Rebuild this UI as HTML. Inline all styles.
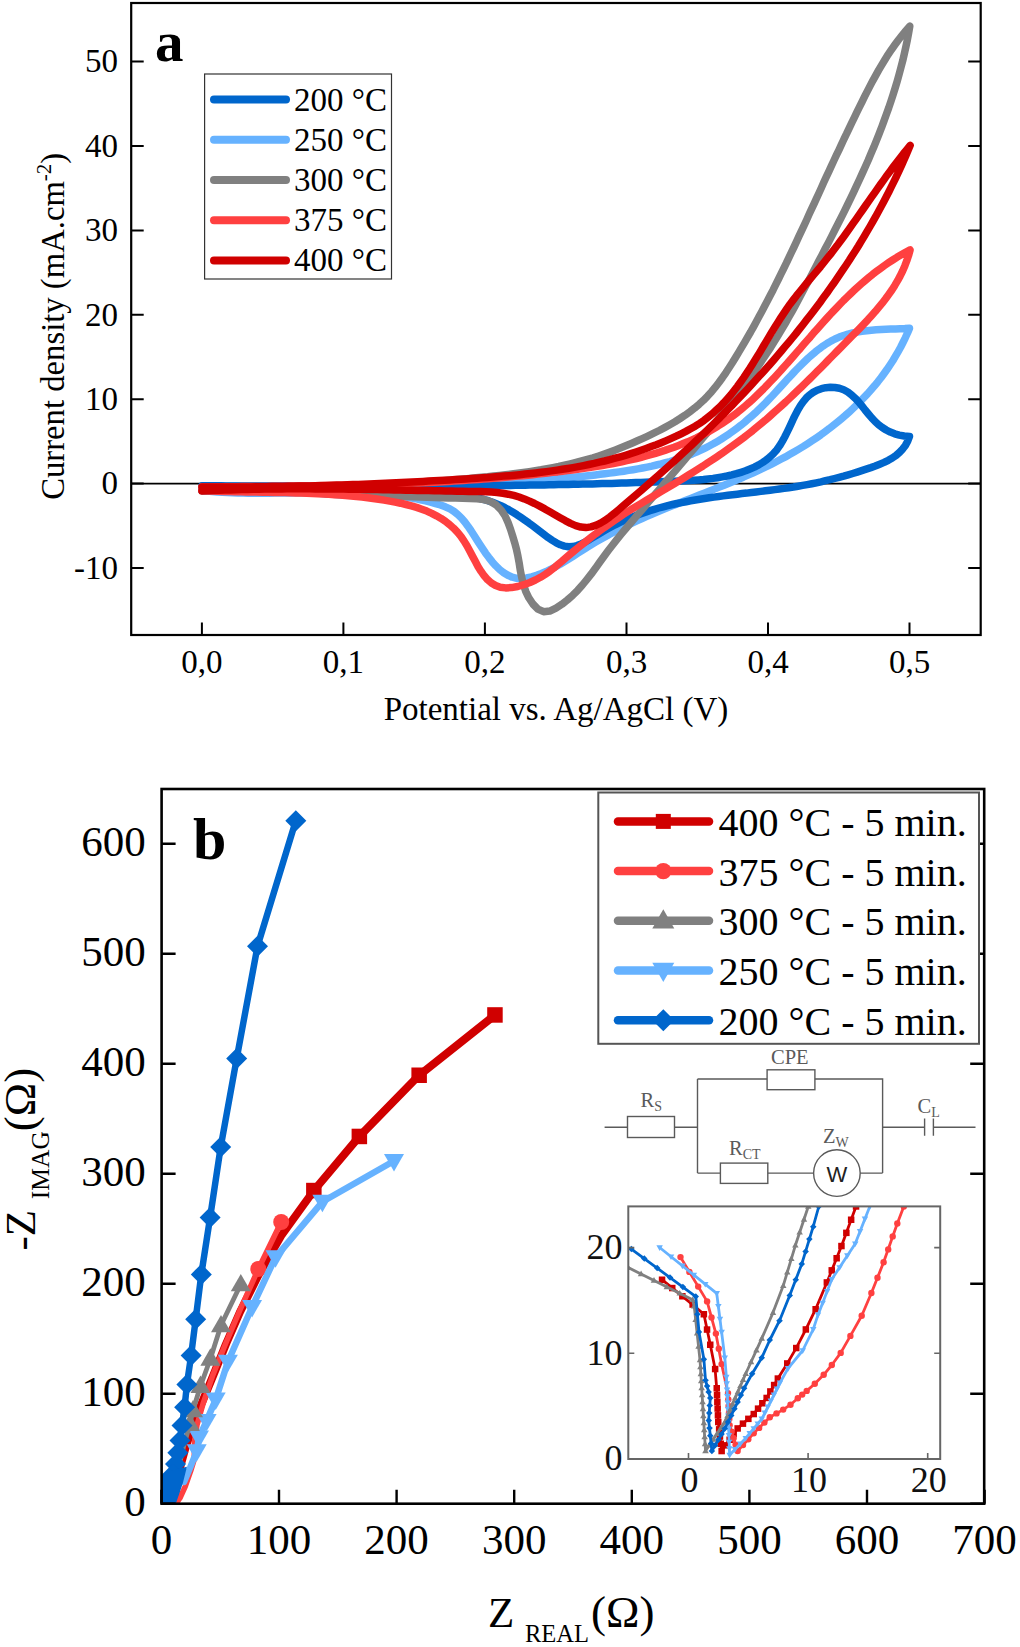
<!DOCTYPE html><html><head><meta charset="utf-8"><style>html,body{margin:0;padding:0;background:#fff;}svg{display:block;}text{font-family:"Liberation Serif",serif;}</style></head><body>
<svg width="1020" height="1647" viewBox="0 0 1020 1647">
<rect width="1020" height="1647" fill="#fff"/>
<line x1="131.2" y1="483.6" x2="980.7" y2="483.6" stroke="#000" stroke-width="1.8"/>
<path d="M202.0 487.0 L206.8 486.9 L211.5 486.9 L216.3 486.8 L221.0 486.7 L225.8 486.7 L230.5 486.6 L235.3 486.6 L240.0 486.5 L244.8 486.5 L249.5 486.5 L254.3 486.5 L259.0 486.4 L263.8 486.4 L268.5 486.4 L273.3 486.4 L278.0 486.4 L282.8 486.3 L287.5 486.3 L292.2 486.3 L297.0 486.3 L301.7 486.3 L306.5 486.3 L311.2 486.3 L316.0 486.3 L320.7 486.3 L325.4 486.3 L330.2 486.2 L334.9 486.2 L339.7 486.2 L344.4 486.2 L349.1 486.2 L353.9 486.2 L358.6 486.1 L363.3 486.1 L368.1 486.1 L372.8 486.0 L377.6 486.0 L382.3 486.0 L387.0 485.9 L391.8 485.9 L396.5 485.8 L401.2 485.7 L406.0 485.7 L410.7 485.6 L415.4 485.5 L420.2 485.4 L424.9 485.3 L429.6 485.2 L434.4 485.1 L439.1 485.0 L443.8 484.9 L448.6 484.7 L453.3 484.6 L458.0 484.4 L462.8 484.3 L467.5 484.1 L472.2 483.9 L477.0 483.7 L481.7 483.5 L486.5 483.3 L491.2 483.1 L495.9 482.9 L500.7 482.6 L505.4 482.4 L510.1 482.1 L514.9 481.8 L519.6 481.5 L524.3 481.2 L529.1 480.9 L533.8 480.6 L538.5 480.2 L543.3 479.9 L548.0 479.5 L552.8 479.1 L557.5 478.7 L562.2 478.3 L567.0 477.8 L571.7 477.4 L576.4 476.9 L581.2 476.4 L585.9 475.9 L590.7 475.4 L595.4 474.9 L600.1 474.3 L604.9 473.7 L609.6 473.1 L614.4 472.5 L619.1 471.9 L623.8 471.2 L628.5 470.4 L633.2 469.7 L637.9 468.9 L642.6 468.0 L647.2 467.1 L651.9 466.1 L656.5 465.0 L661.1 463.9 L665.6 462.7 L670.1 461.5 L674.6 460.1 L679.1 458.7 L683.5 457.2 L687.9 455.6 L692.3 453.9 L696.6 452.1 L700.8 450.2 L705.1 448.1 L709.2 446.0 L713.3 443.8 L717.4 441.4 L721.4 439.0 L725.4 436.4 L729.3 433.8 L733.2 431.0 L737.0 428.2 L740.8 425.3 L744.5 422.3 L748.1 419.2 L751.7 416.1 L755.3 412.9 L758.8 409.6 L762.2 406.3 L765.6 402.9 L768.9 399.4 L772.2 396.0 L775.4 392.5 L778.7 388.9 L781.9 385.4 L785.1 381.9 L788.3 378.3 L791.6 374.9 L794.8 371.4 L798.1 368.0 L801.5 364.6 L804.9 361.3 L808.3 358.0 L811.9 354.9 L815.5 351.8 L819.2 348.9 L823.0 346.1 L826.9 343.5 L830.9 341.1 L835.0 339.0 L839.2 337.1 L843.6 335.5 L848.1 334.1 L852.6 333.0 L857.2 332.1 L861.9 331.3 L866.7 330.7 L871.4 330.2 L876.2 329.8 L881.1 329.5 L885.9 329.3 L890.7 329.1 L895.5 328.9 L900.2 328.7 L904.9 328.5 L909.5 328.2 L907.5 333.0 L905.3 337.8 L903.0 342.5 L900.6 347.2 L898.1 351.7 L895.5 356.2 L892.8 360.7 L890.0 365.0 L887.1 369.3 L884.1 373.5 L881.0 377.7 L877.8 381.8 L874.5 385.8 L871.1 389.7 L867.7 393.6 L864.1 397.4 L860.5 401.1 L856.9 404.8 L853.1 408.4 L849.3 411.9 L845.4 415.4 L841.4 418.8 L837.4 422.1 L833.3 425.4 L829.2 428.6 L825.0 431.7 L820.8 434.8 L816.5 437.8 L812.2 440.7 L807.8 443.6 L803.4 446.4 L798.9 449.1 L794.4 451.7 L789.9 454.3 L785.4 456.9 L780.8 459.3 L776.2 461.7 L771.5 464.1 L766.9 466.4 L762.2 468.6 L757.5 470.8 L752.8 473.0 L748.0 475.1 L743.3 477.2 L738.5 479.2 L733.7 481.2 L728.9 483.2 L724.1 485.2 L719.3 487.1 L714.4 489.1 L709.6 491.0 L704.8 492.9 L699.9 494.8 L695.1 496.7 L690.2 498.7 L685.4 500.6 L680.5 502.5 L675.7 504.4 L670.9 506.4 L666.1 508.3 L661.2 510.3 L656.4 512.3 L651.7 514.3 L646.9 516.4 L642.1 518.5 L637.4 520.6 L632.6 522.8 L627.9 525.0 L623.3 527.3 L618.6 529.6 L614.0 532.0 L609.3 534.4 L604.8 536.9 L600.2 539.5 L595.7 542.1 L591.2 544.8 L586.7 547.5 L582.3 550.4 L577.9 553.2 L573.5 556.0 L569.0 558.9 L564.6 561.6 L560.1 564.3 L555.5 566.8 L550.9 569.2 L546.2 571.5 L541.5 573.5 L536.6 575.3 L531.6 576.8 L526.6 578.0 L521.7 578.5 L516.9 578.3 L512.2 577.2 L507.9 575.3 L503.7 572.7 L499.7 569.6 L495.9 565.9 L492.3 561.9 L488.9 557.6 L485.6 553.2 L482.6 548.7 L479.6 544.1 L476.7 539.6 L473.8 535.0 L470.9 530.5 L467.9 526.2 L464.8 522.0 L461.5 518.1 L457.9 514.6 L454.1 511.5 L449.9 508.9 L445.3 506.8 L440.5 505.0 L435.6 503.6 L430.6 502.2 L425.6 500.9 L420.6 499.8 L415.5 498.7 L410.4 497.8 L405.3 496.9 L400.2 496.2 L395.1 495.5 L389.9 494.9 L384.8 494.4 L379.6 493.9 L374.4 493.5 L369.2 493.2 L364.0 492.9 L358.7 492.7 L353.5 492.5 L348.3 492.4 L343.0 492.3 L337.7 492.3 L332.5 492.3 L327.2 492.3 L321.9 492.3 L316.6 492.4 L311.4 492.5 L306.1 492.6 L300.8 492.7 L295.5 492.8 L290.2 492.9 L285.0 493.0 L279.7 493.1 L274.4 493.1 L269.2 493.2 L263.9 493.2 L258.7 493.2 L253.5 493.2 L248.3 493.2 L243.1 493.1 L237.9 493.0 L232.7 492.8 L227.5 492.6 L222.4 492.3 L217.3 491.9 L212.2 491.5 L207.1 491.0 L202.0 490.5" fill="none" stroke="#66b2ff" stroke-width="7.5" stroke-linecap="round" stroke-linejoin="round"/>
<path d="M202.0 485.8 L206.8 485.8 L211.7 485.8 L216.5 485.8 L221.3 485.8 L226.1 485.9 L231.0 485.9 L235.8 485.9 L240.6 485.9 L245.4 485.9 L250.3 485.9 L255.1 485.9 L259.9 486.0 L264.7 486.0 L269.5 486.0 L274.4 486.0 L279.2 486.0 L284.0 486.0 L288.8 486.0 L293.7 486.0 L298.5 486.1 L303.3 486.1 L308.1 486.1 L312.9 486.1 L317.8 486.1 L322.6 486.1 L327.4 486.1 L332.2 486.1 L337.0 486.1 L341.9 486.1 L346.7 486.2 L351.5 486.2 L356.3 486.2 L361.1 486.2 L366.0 486.2 L370.8 486.2 L375.6 486.2 L380.4 486.2 L385.2 486.2 L390.1 486.1 L394.9 486.1 L399.7 486.1 L404.5 486.1 L409.3 486.1 L414.1 486.1 L419.0 486.1 L423.8 486.1 L428.6 486.0 L433.4 486.0 L438.2 486.0 L443.1 486.0 L447.9 485.9 L452.7 485.9 L457.5 485.9 L462.3 485.9 L467.1 485.8 L472.0 485.8 L476.8 485.7 L481.6 485.7 L486.4 485.6 L491.2 485.6 L496.1 485.5 L500.9 485.5 L505.7 485.4 L510.5 485.4 L515.3 485.3 L520.2 485.2 L525.0 485.2 L529.8 485.1 L534.6 485.0 L539.4 485.0 L544.3 484.9 L549.1 484.8 L553.9 484.7 L558.7 484.6 L563.6 484.5 L568.4 484.4 L573.2 484.3 L578.0 484.2 L582.8 484.1 L587.7 484.0 L592.5 483.9 L597.3 483.7 L602.1 483.6 L607.0 483.5 L611.8 483.4 L616.6 483.2 L621.5 483.1 L626.3 482.9 L631.1 482.8 L635.9 482.6 L640.8 482.5 L645.6 482.3 L650.4 482.1 L655.2 482.0 L660.1 481.8 L664.9 481.6 L669.7 481.4 L674.6 481.2 L679.4 481.0 L684.2 480.8 L689.0 480.6 L693.9 480.3 L698.7 479.9 L703.5 479.5 L708.2 479.0 L713.0 478.4 L717.7 477.7 L722.4 476.9 L727.1 476.0 L731.8 474.9 L736.4 473.7 L741.0 472.3 L745.6 470.8 L750.0 469.0 L754.4 467.1 L758.7 464.9 L762.8 462.4 L766.7 459.7 L770.3 456.7 L773.7 453.3 L776.9 449.7 L779.7 445.7 L782.3 441.4 L784.7 437.0 L787.0 432.4 L789.2 427.8 L791.4 423.1 L793.5 418.5 L795.8 413.9 L798.1 409.6 L800.6 405.4 L803.3 401.6 L806.2 398.1 L809.5 395.0 L813.1 392.4 L817.1 390.2 L821.4 388.7 L825.8 387.7 L830.3 387.3 L834.9 387.5 L839.4 388.3 L843.7 389.8 L847.8 392.0 L851.6 394.9 L855.1 398.2 L858.6 401.9 L861.9 405.9 L865.1 410.0 L868.4 414.0 L871.7 417.9 L875.1 421.5 L878.6 424.7 L882.3 427.5 L886.2 430.0 L890.3 432.1 L894.7 433.8 L899.3 435.1 L904.2 436.0 L909.5 436.5 L907.7 441.2 L905.4 445.4 L902.6 449.1 L899.5 452.4 L896.1 455.4 L892.3 458.0 L888.3 460.3 L884.1 462.4 L879.7 464.2 L875.3 466.0 L870.8 467.6 L866.2 469.1 L861.7 470.6 L857.2 472.1 L852.7 473.5 L848.2 474.8 L843.7 476.1 L839.1 477.3 L834.6 478.5 L830.1 479.7 L825.5 480.7 L821.0 481.8 L816.4 482.8 L811.8 483.7 L807.2 484.6 L802.6 485.4 L798.0 486.2 L793.4 487.0 L788.7 487.7 L784.1 488.4 L779.4 489.0 L774.8 489.6 L770.1 490.2 L765.4 490.8 L760.7 491.4 L756.0 492.0 L751.3 492.5 L746.7 493.1 L742.0 493.6 L737.3 494.2 L732.6 494.7 L727.9 495.3 L723.2 495.9 L718.5 496.5 L713.9 497.1 L709.2 497.8 L704.6 498.5 L699.9 499.2 L695.3 500.0 L690.7 500.8 L686.1 501.7 L681.5 502.6 L676.9 503.5 L672.4 504.5 L667.8 505.6 L663.3 506.8 L658.8 508.0 L654.3 509.3 L649.9 510.6 L645.5 512.1 L641.1 513.6 L636.7 515.2 L632.4 517.0 L628.0 518.8 L623.7 520.7 L619.5 522.7 L615.2 524.8 L611.0 527.0 L606.8 529.3 L602.5 531.7 L598.3 534.2 L594.0 536.8 L589.7 539.4 L585.5 541.8 L581.2 543.9 L577.0 545.6 L572.7 546.6 L568.6 546.8 L564.4 546.1 L560.4 544.8 L556.3 542.8 L552.3 540.4 L548.3 537.7 L544.4 534.7 L540.5 531.7 L536.6 528.7 L532.7 525.8 L528.8 522.9 L524.8 520.1 L520.9 517.4 L517.0 514.8 L513.0 512.3 L509.0 509.9 L505.0 507.7 L500.9 505.7 L496.7 503.9 L492.5 502.2 L488.2 500.7 L483.9 499.5 L479.4 498.4 L474.9 497.5 L470.4 496.8 L465.8 496.2 L461.2 495.8 L456.5 495.4 L451.8 495.2 L447.0 495.1 L442.3 495.0 L437.5 495.1 L432.7 495.2 L427.8 495.3 L423.0 495.4 L418.2 495.6 L413.3 495.8 L408.5 496.0 L403.7 496.1 L398.8 496.2 L394.1 496.3 L389.3 496.3 L384.5 496.3 L379.8 496.3 L375.1 496.2 L370.3 496.0 L365.6 495.9 L361.0 495.7 L356.3 495.5 L351.6 495.3 L347.0 495.0 L342.3 494.8 L337.7 494.5 L333.0 494.2 L328.4 493.9 L323.8 493.5 L319.2 493.2 L314.5 492.9 L309.9 492.6 L305.3 492.2 L300.7 491.9 L296.1 491.6 L291.5 491.3 L286.8 491.0 L282.2 490.7 L277.6 490.5 L272.9 490.2 L268.3 490.0 L263.6 489.8 L259.0 489.6 L254.3 489.5 L249.6 489.4 L244.9 489.3 L240.2 489.2 L235.5 489.2 L230.8 489.3 L226.0 489.4 L221.2 489.5 L216.5 489.7 L211.7 489.9 L206.8 490.2 L202.0 490.5" fill="none" stroke="#0066cc" stroke-width="7.5" stroke-linecap="round" stroke-linejoin="round"/>
<path d="M202.0 487.0 L208.0 487.1 L214.0 487.3 L220.0 487.4 L225.9 487.5 L231.9 487.6 L237.9 487.7 L243.9 487.7 L249.8 487.8 L255.8 487.8 L261.8 487.8 L267.7 487.8 L273.7 487.8 L279.6 487.8 L285.6 487.7 L291.5 487.6 L297.5 487.6 L303.4 487.5 L309.4 487.4 L315.3 487.2 L321.3 487.1 L327.2 486.9 L333.1 486.7 L339.1 486.6 L345.0 486.4 L351.0 486.1 L356.9 485.9 L362.8 485.6 L368.8 485.4 L374.7 485.1 L380.6 484.8 L386.6 484.5 L392.5 484.1 L398.5 483.8 L404.4 483.4 L410.3 483.1 L416.3 482.7 L422.2 482.2 L428.2 481.8 L434.1 481.4 L440.1 480.9 L446.0 480.4 L452.0 479.9 L457.9 479.4 L463.9 478.9 L469.8 478.4 L475.8 477.8 L481.7 477.2 L487.7 476.7 L493.7 476.0 L499.6 475.4 L505.6 474.7 L511.5 474.0 L517.5 473.3 L523.4 472.5 L529.3 471.6 L535.2 470.7 L541.1 469.8 L547.0 468.7 L552.8 467.6 L558.7 466.5 L564.5 465.2 L570.3 463.9 L576.0 462.5 L581.7 461.0 L587.4 459.4 L593.1 457.8 L598.7 456.0 L604.3 454.1 L609.9 452.1 L615.4 450.0 L620.9 447.8 L626.4 445.5 L631.9 443.2 L637.4 440.8 L642.9 438.3 L648.3 435.8 L653.8 433.2 L659.2 430.5 L664.6 427.6 L669.8 424.7 L675.0 421.7 L680.1 418.5 L685.1 415.2 L689.9 411.7 L694.6 408.1 L699.1 404.3 L703.5 400.3 L707.6 396.1 L711.6 391.7 L715.3 387.2 L718.9 382.5 L722.4 377.7 L725.8 372.8 L729.1 367.8 L732.3 362.8 L735.4 357.7 L738.5 352.6 L741.6 347.4 L744.6 342.3 L747.6 337.1 L750.6 332.0 L753.5 326.8 L756.4 321.5 L759.2 316.3 L762.1 311.0 L764.8 305.8 L767.6 300.5 L770.3 295.2 L773.1 289.9 L775.7 284.6 L778.4 279.2 L781.0 273.9 L783.7 268.5 L786.3 263.2 L788.8 257.8 L791.4 252.4 L794.0 247.0 L796.5 241.6 L799.0 236.2 L801.5 230.8 L804.1 225.4 L806.6 220.0 L809.0 214.6 L811.5 209.2 L814.0 203.8 L816.5 198.4 L819.0 193.0 L821.5 187.5 L823.9 182.1 L826.4 176.7 L828.9 171.3 L831.4 165.9 L833.9 160.5 L836.4 155.2 L839.0 149.8 L841.5 144.4 L844.0 139.0 L846.6 133.7 L849.1 128.3 L851.7 122.9 L854.3 117.6 L856.9 112.2 L859.5 106.9 L862.2 101.5 L864.8 96.2 L867.5 90.9 L870.2 85.6 L873.0 80.3 L875.9 75.1 L878.8 69.9 L881.8 64.8 L884.9 59.7 L888.1 54.6 L891.4 49.7 L894.9 44.8 L898.4 40.0 L902.1 35.3 L905.9 30.7 L909.8 26.2 L908.6 33.2 L907.3 40.1 L905.8 47.1 L904.3 53.9 L902.7 60.8 L900.9 67.6 L899.1 74.4 L897.2 81.2 L895.2 87.9 L893.1 94.6 L890.9 101.3 L888.7 107.9 L886.3 114.5 L883.9 121.1 L881.5 127.7 L878.9 134.3 L876.3 140.8 L873.7 147.3 L870.9 153.8 L868.2 160.3 L865.3 166.7 L862.4 173.1 L859.5 179.5 L856.5 185.9 L853.5 192.3 L850.5 198.7 L847.4 205.0 L844.3 211.4 L841.1 217.7 L837.9 224.0 L834.7 230.3 L831.5 236.6 L828.3 242.9 L825.0 249.1 L821.8 255.4 L818.5 261.6 L815.2 267.9 L812.0 274.1 L808.7 280.4 L805.4 286.6 L802.1 292.8 L798.8 299.0 L795.5 305.2 L792.1 311.3 L788.6 317.5 L785.2 323.6 L781.6 329.6 L778.0 335.6 L774.3 341.6 L770.6 347.6 L766.7 353.4 L762.8 359.3 L758.9 365.1 L754.8 370.8 L750.7 376.6 L746.6 382.3 L742.4 387.9 L738.2 393.6 L733.9 399.2 L729.6 404.7 L725.2 410.3 L720.8 415.8 L716.4 421.3 L712.0 426.8 L707.6 432.3 L703.1 437.7 L698.6 443.1 L694.1 448.5 L689.5 453.9 L685.0 459.3 L680.5 464.7 L675.9 470.1 L671.3 475.4 L666.7 480.8 L662.2 486.1 L657.6 491.5 L653.0 496.8 L648.4 502.1 L643.9 507.5 L639.3 512.8 L634.8 518.1 L630.2 523.5 L625.7 528.8 L621.2 534.2 L616.8 539.6 L612.4 545.2 L608.1 550.8 L603.9 556.5 L599.7 562.3 L595.6 568.1 L591.3 573.9 L586.9 579.5 L582.4 585.0 L577.7 590.3 L572.8 595.2 L567.5 599.9 L562.0 604.2 L556.0 608.1 L549.8 611.1 L543.6 611.7 L537.9 609.1 L532.9 604.0 L528.8 597.8 L525.7 591.3 L523.4 584.4 L521.7 577.4 L520.3 570.2 L519.2 563.1 L517.9 556.1 L516.5 549.4 L514.7 542.8 L512.7 536.2 L510.6 529.5 L508.1 522.6 L505.1 516.0 L501.1 510.0 L496.2 505.0 L490.4 501.5 L483.9 499.6 L477.0 498.8 L469.8 498.5 L462.7 498.3 L455.6 498.1 L448.4 497.9 L441.3 497.7 L434.2 497.4 L427.2 497.2 L420.1 496.9 L413.0 496.7 L405.9 496.4 L398.9 496.1 L391.9 495.9 L384.8 495.6 L377.8 495.3 L370.8 495.1 L363.7 494.8 L356.7 494.5 L349.7 494.3 L342.7 494.0 L335.7 493.8 L328.7 493.5 L321.6 493.3 L314.6 493.0 L307.6 492.8 L300.6 492.6 L293.6 492.3 L286.6 492.1 L279.6 491.9 L272.5 491.7 L265.5 491.5 L258.5 491.4 L251.5 491.2 L244.4 491.1 L237.4 490.9 L230.3 490.8 L223.2 490.7 L216.2 490.6 L209.1 490.6 L202.0 490.5" fill="none" stroke="#808080" stroke-width="7.5" stroke-linecap="round" stroke-linejoin="round"/>
<path d="M202.0 487.0 L207.0 486.9 L212.0 486.9 L217.0 486.8 L222.0 486.8 L227.0 486.8 L231.9 486.7 L236.9 486.7 L241.9 486.6 L246.9 486.6 L251.8 486.5 L256.8 486.5 L261.7 486.4 L266.7 486.4 L271.7 486.3 L276.6 486.3 L281.6 486.2 L286.5 486.2 L291.4 486.1 L296.4 486.1 L301.3 486.0 L306.3 485.9 L311.2 485.9 L316.1 485.8 L321.0 485.7 L326.0 485.6 L330.9 485.6 L335.8 485.5 L340.7 485.4 L345.7 485.3 L350.6 485.2 L355.5 485.0 L360.4 484.9 L365.3 484.8 L370.3 484.7 L375.2 484.5 L380.1 484.4 L385.0 484.2 L389.9 484.1 L394.8 483.9 L399.7 483.7 L404.6 483.5 L409.6 483.3 L414.5 483.1 L419.4 482.9 L424.3 482.7 L429.2 482.4 L434.1 482.2 L439.0 481.9 L444.0 481.7 L448.9 481.4 L453.8 481.1 L458.7 480.8 L463.6 480.5 L468.6 480.1 L473.5 479.8 L478.4 479.4 L483.3 479.1 L488.3 478.7 L493.2 478.3 L498.1 477.9 L503.1 477.5 L508.0 477.1 L513.0 476.6 L517.9 476.1 L522.9 475.7 L527.8 475.2 L532.8 474.7 L537.7 474.1 L542.7 473.6 L547.6 473.0 L552.6 472.4 L557.6 471.9 L562.5 471.2 L567.5 470.6 L572.5 470.0 L577.5 469.3 L582.4 468.6 L587.4 467.9 L592.4 467.1 L597.3 466.3 L602.3 465.5 L607.2 464.6 L612.1 463.7 L617.0 462.8 L621.9 461.8 L626.8 460.7 L631.6 459.6 L636.5 458.5 L641.3 457.3 L646.1 456.0 L650.8 454.7 L655.5 453.3 L660.2 451.9 L664.9 450.4 L669.5 448.8 L674.1 447.2 L678.7 445.4 L683.2 443.6 L687.7 441.8 L692.1 439.8 L696.5 437.8 L700.9 435.6 L705.2 433.4 L709.4 431.1 L713.6 428.7 L717.8 426.2 L721.9 423.6 L725.9 420.9 L729.9 418.1 L733.8 415.2 L737.7 412.2 L741.5 409.1 L745.2 406.0 L749.0 402.7 L752.6 399.4 L756.2 396.0 L759.8 392.5 L763.4 389.0 L766.9 385.4 L770.3 381.8 L773.8 378.2 L777.2 374.5 L780.6 370.8 L783.9 367.0 L787.3 363.3 L790.6 359.5 L793.9 355.7 L797.2 351.9 L800.5 348.2 L803.7 344.4 L807.0 340.6 L810.3 336.9 L813.5 333.1 L816.8 329.4 L820.1 325.7 L823.4 322.0 L826.7 318.4 L830.0 314.7 L833.4 311.1 L836.8 307.6 L840.2 304.0 L843.6 300.5 L847.1 297.1 L850.6 293.7 L854.2 290.3 L857.8 287.0 L861.4 283.8 L865.1 280.6 L868.9 277.4 L872.7 274.3 L876.6 271.3 L880.5 268.4 L884.5 265.5 L888.6 262.7 L892.7 260.0 L896.9 257.3 L901.2 254.8 L905.6 252.3 L910.1 249.9 L908.6 255.4 L906.8 260.7 L904.8 265.9 L902.6 271.0 L900.2 275.9 L897.6 280.7 L894.8 285.4 L891.9 290.0 L888.8 294.4 L885.6 298.8 L882.2 303.2 L878.7 307.4 L875.2 311.6 L871.5 315.7 L867.8 319.8 L864.0 323.8 L860.2 327.8 L856.3 331.8 L852.4 335.7 L848.5 339.7 L844.6 343.6 L840.7 347.6 L836.8 351.5 L832.9 355.5 L829.0 359.4 L825.2 363.4 L821.3 367.3 L817.4 371.2 L813.5 375.1 L809.6 379.0 L805.6 382.9 L801.7 386.7 L797.7 390.5 L793.8 394.3 L789.8 398.1 L785.8 401.9 L781.7 405.6 L777.6 409.3 L773.5 412.9 L769.4 416.6 L765.3 420.2 L761.1 423.7 L756.8 427.2 L752.6 430.7 L748.2 434.1 L743.9 437.5 L739.5 440.8 L735.0 444.1 L730.5 447.3 L726.0 450.5 L721.5 453.7 L716.9 456.8 L712.3 459.9 L707.6 462.9 L703.0 466.0 L698.3 468.9 L693.6 471.9 L688.9 474.8 L684.2 477.7 L679.5 480.6 L674.7 483.5 L670.0 486.3 L665.3 489.1 L660.6 491.9 L655.8 494.7 L651.1 497.5 L646.4 500.3 L641.7 503.1 L637.0 505.9 L632.3 508.8 L627.7 511.7 L623.0 514.7 L618.4 517.8 L613.8 520.9 L609.2 524.1 L604.6 527.3 L600.1 530.6 L595.6 533.9 L591.2 537.3 L586.8 540.7 L582.4 544.2 L578.2 547.6 L574.0 551.0 L569.8 554.5 L565.8 557.9 L561.8 561.4 L557.8 564.7 L553.8 568.1 L549.6 571.3 L545.2 574.3 L540.5 577.3 L535.4 580.0 L529.9 582.5 L523.9 584.7 L517.7 586.5 L511.5 587.6 L505.6 587.9 L500.3 587.2 L495.6 585.5 L491.4 583.0 L487.6 579.7 L484.2 575.8 L481.1 571.4 L478.1 566.7 L475.4 561.6 L472.6 556.4 L469.9 551.2 L467.1 546.0 L464.1 541.1 L460.9 536.4 L457.4 532.2 L453.6 528.2 L449.7 524.7 L445.5 521.4 L441.1 518.4 L436.5 515.8 L431.7 513.3 L426.8 511.1 L421.8 509.2 L416.6 507.4 L411.4 505.9 L406.0 504.5 L400.6 503.2 L395.1 502.1 L389.7 501.1 L384.1 500.1 L378.6 499.3 L373.1 498.5 L367.6 497.8 L362.1 497.1 L356.5 496.5 L351.0 496.0 L345.5 495.5 L340.0 495.1 L334.5 494.7 L328.9 494.3 L323.4 494.0 L317.9 493.7 L312.4 493.5 L306.9 493.3 L301.3 493.1 L295.8 492.9 L290.3 492.8 L284.8 492.6 L279.3 492.5 L273.7 492.4 L268.2 492.3 L262.7 492.2 L257.2 492.1 L251.7 492.0 L246.1 491.9 L240.6 491.8 L235.1 491.7 L229.6 491.6 L224.1 491.4 L218.6 491.2 L213.0 491.0 L207.5 490.8 L202.0 490.5" fill="none" stroke="#ff4040" stroke-width="7.5" stroke-linecap="round" stroke-linejoin="round"/>
<path d="M202.0 487.0 L207.4 487.0 L212.8 487.0 L218.1 487.0 L223.5 487.0 L228.9 487.0 L234.3 487.0 L239.7 486.9 L245.1 486.9 L250.5 486.9 L255.9 486.8 L261.2 486.7 L266.6 486.7 L272.0 486.6 L277.4 486.5 L282.8 486.4 L288.2 486.3 L293.6 486.2 L299.0 486.1 L304.4 486.0 L309.8 485.9 L315.2 485.7 L320.6 485.6 L326.0 485.4 L331.3 485.3 L336.7 485.1 L342.1 484.9 L347.5 484.8 L352.9 484.6 L358.3 484.4 L363.7 484.2 L369.1 484.0 L374.5 483.7 L379.9 483.5 L385.3 483.3 L390.7 483.0 L396.1 482.8 L401.4 482.5 L406.8 482.3 L412.2 482.0 L417.6 481.7 L423.0 481.4 L428.4 481.1 L433.8 480.8 L439.1 480.5 L444.5 480.2 L449.9 479.9 L455.3 479.6 L460.7 479.2 L466.0 478.9 L471.4 478.5 L476.8 478.2 L482.2 477.8 L487.5 477.4 L492.9 477.0 L498.3 476.6 L503.6 476.1 L509.0 475.7 L514.3 475.2 L519.7 474.7 L525.0 474.1 L530.4 473.6 L535.7 473.0 L541.0 472.3 L546.4 471.6 L551.7 470.9 L557.0 470.1 L562.3 469.3 L567.6 468.5 L572.9 467.6 L578.2 466.6 L583.5 465.6 L588.8 464.5 L594.1 463.4 L599.3 462.2 L604.6 461.0 L609.9 459.6 L615.1 458.2 L620.3 456.8 L625.5 455.3 L630.7 453.7 L635.9 452.0 L641.0 450.3 L646.1 448.5 L651.2 446.6 L656.3 444.7 L661.3 442.7 L666.3 440.6 L671.3 438.4 L676.2 436.2 L681.1 433.8 L685.9 431.4 L690.6 428.8 L695.2 426.2 L699.7 423.3 L704.1 420.3 L708.3 417.0 L712.4 413.7 L716.3 410.1 L720.2 406.5 L723.8 402.7 L727.4 398.7 L730.9 394.7 L734.2 390.5 L737.5 386.3 L740.6 382.0 L743.7 377.6 L746.7 373.1 L749.7 368.6 L752.6 364.0 L755.4 359.4 L758.3 354.8 L761.1 350.1 L763.8 345.5 L766.6 340.8 L769.4 336.1 L772.2 331.4 L775.1 326.8 L778.0 322.2 L780.9 317.6 L783.9 313.1 L786.9 308.6 L790.0 304.2 L793.3 299.9 L796.5 295.7 L799.9 291.5 L803.3 287.3 L806.7 283.1 L810.1 279.0 L813.6 274.9 L817.0 270.8 L820.5 266.7 L823.9 262.5 L827.2 258.3 L830.6 254.1 L833.9 249.8 L837.1 245.6 L840.3 241.2 L843.5 236.9 L846.7 232.5 L849.8 228.1 L852.9 223.7 L856.0 219.3 L859.1 214.9 L862.2 210.5 L865.3 206.0 L868.4 201.6 L871.5 197.2 L874.6 192.8 L877.7 188.4 L880.8 184.0 L884.0 179.6 L887.1 175.2 L890.3 170.9 L893.5 166.5 L896.8 162.2 L900.1 158.0 L903.4 153.7 L906.8 149.6 L910.2 145.4 L908.0 150.6 L905.8 155.8 L903.5 161.0 L901.2 166.2 L898.8 171.3 L896.4 176.5 L893.9 181.6 L891.4 186.7 L888.9 191.7 L886.3 196.8 L883.7 201.8 L881.0 206.8 L878.3 211.7 L875.6 216.7 L872.8 221.6 L870.0 226.5 L867.1 231.4 L864.2 236.3 L861.3 241.1 L858.4 246.0 L855.4 250.8 L852.3 255.5 L849.3 260.3 L846.2 265.0 L843.0 269.7 L839.8 274.4 L836.6 279.1 L833.4 283.8 L830.1 288.4 L826.9 293.0 L823.5 297.6 L820.2 302.2 L816.8 306.7 L813.4 311.2 L809.9 315.8 L806.4 320.2 L802.9 324.7 L799.4 329.1 L795.9 333.6 L792.3 338.0 L788.7 342.3 L785.0 346.7 L781.4 351.0 L777.7 355.4 L774.0 359.7 L770.3 363.9 L766.5 368.2 L762.7 372.4 L758.9 376.6 L755.1 380.8 L751.3 385.0 L747.4 389.2 L743.5 393.3 L739.6 397.4 L735.7 401.5 L731.8 405.6 L727.8 409.6 L723.9 413.6 L719.9 417.7 L715.9 421.6 L711.9 425.6 L707.8 429.6 L703.8 433.5 L699.7 437.4 L695.6 441.3 L691.5 445.2 L687.4 449.0 L683.3 452.8 L679.1 456.6 L675.0 460.4 L670.8 464.2 L666.6 468.0 L662.4 471.8 L658.2 475.5 L653.9 479.3 L649.6 483.1 L645.3 486.8 L641.0 490.6 L636.6 494.3 L632.2 498.1 L627.8 501.9 L623.4 505.7 L618.9 509.5 L614.4 513.3 L609.8 516.9 L605.2 520.3 L600.5 523.1 L595.7 525.4 L590.9 526.9 L585.9 527.6 L580.8 527.1 L575.7 525.6 L570.5 523.4 L565.2 520.6 L560.1 517.7 L554.9 514.7 L549.8 511.8 L544.8 508.9 L539.7 506.1 L534.6 503.5 L529.5 501.1 L524.3 498.9 L519.1 497.0 L513.8 495.4 L508.3 494.2 L502.8 493.2 L497.2 492.5 L491.6 492.1 L485.9 491.8 L480.2 491.6 L474.4 491.4 L468.7 491.4 L462.9 491.3 L457.2 491.2 L451.5 491.1 L445.8 491.0 L440.0 490.8 L434.3 490.7 L428.6 490.6 L422.9 490.5 L417.3 490.4 L411.6 490.3 L405.9 490.2 L400.2 490.1 L394.5 489.9 L388.9 489.8 L383.2 489.7 L377.6 489.6 L371.9 489.5 L366.2 489.4 L360.6 489.3 L354.9 489.3 L349.3 489.2 L343.6 489.1 L338.0 489.0 L332.3 489.0 L326.7 488.9 L321.1 488.9 L315.4 488.9 L309.8 488.8 L304.1 488.8 L298.5 488.8 L292.8 488.8 L287.2 488.8 L281.5 488.9 L275.9 488.9 L270.2 489.0 L264.5 489.1 L258.9 489.2 L253.2 489.3 L247.5 489.4 L241.9 489.5 L236.2 489.7 L230.5 489.9 L224.8 490.0 L219.1 490.3 L213.4 490.5 L207.7 490.7 L202.0 491.0" fill="none" stroke="#d00000" stroke-width="7.5" stroke-linecap="round" stroke-linejoin="round"/>
<rect x="131.2" y="3.0" width="849.5" height="632.0" fill="none" stroke="#000" stroke-width="2.2"/>
<path d="M131.2 568.0h12.5M980.7 568.0h-12.5M131.2 483.6h12.5M980.7 483.6h-12.5M131.2 399.2h12.5M980.7 399.2h-12.5M131.2 314.8h12.5M980.7 314.8h-12.5M131.2 230.4h12.5M980.7 230.4h-12.5M131.2 146.0h12.5M980.7 146.0h-12.5M131.2 61.6h12.5M980.7 61.6h-12.5M201.9 635.0v-12.5M343.4 635.0v-12.5M484.9 635.0v-12.5M626.5 635.0v-12.5M768.0 635.0v-12.5M909.5 635.0v-12.5" stroke="#000" stroke-width="2" fill="none"/>
<text x="118.0" y="578.8" font-size="33" text-anchor="end">-10</text>
<text x="118.0" y="494.4" font-size="33" text-anchor="end">0</text>
<text x="118.0" y="410.0" font-size="33" text-anchor="end">10</text>
<text x="118.0" y="325.6" font-size="33" text-anchor="end">20</text>
<text x="118.0" y="241.2" font-size="33" text-anchor="end">30</text>
<text x="118.0" y="156.8" font-size="33" text-anchor="end">40</text>
<text x="118.0" y="72.4" font-size="33" text-anchor="end">50</text>
<text x="201.9" y="673.0" font-size="33" text-anchor="middle">0,0</text>
<text x="343.4" y="673.0" font-size="33" text-anchor="middle">0,1</text>
<text x="484.9" y="673.0" font-size="33" text-anchor="middle">0,2</text>
<text x="626.5" y="673.0" font-size="33" text-anchor="middle">0,3</text>
<text x="768.0" y="673.0" font-size="33" text-anchor="middle">0,4</text>
<text x="909.5" y="673.0" font-size="33" text-anchor="middle">0,5</text>
<text x="556.0" y="719.8" font-size="33" text-anchor="middle">Potential vs. Ag/AgCl (V)</text>
<text transform="translate(63.5 499.8) rotate(-90)" font-size="32.7">Current density (mA.cm<tspan font-size="21" dy="-13">-2</tspan><tspan dy="13">)</tspan></text>
<text x="155.0" y="60.6" font-size="57" font-weight="bold">a</text>
<rect x="204.6" y="74.0" width="186.9" height="205.0" fill="#fff" stroke="#333" stroke-width="1.2"/>
<line x1="214.0" y1="99.6" x2="286.0" y2="99.6" stroke="#0066cc" stroke-width="8" stroke-linecap="round"/>
<text x="294.0" y="110.5" font-size="33">200 °C</text>
<line x1="214.0" y1="139.8" x2="286.0" y2="139.8" stroke="#66b2ff" stroke-width="8" stroke-linecap="round"/>
<text x="294.0" y="150.7" font-size="33">250 °C</text>
<line x1="214.0" y1="180.0" x2="286.0" y2="180.0" stroke="#808080" stroke-width="8" stroke-linecap="round"/>
<text x="294.0" y="190.9" font-size="33">300 °C</text>
<line x1="214.0" y1="220.2" x2="286.0" y2="220.2" stroke="#ff4040" stroke-width="8" stroke-linecap="round"/>
<text x="294.0" y="231.1" font-size="33">375 °C</text>
<line x1="214.0" y1="260.4" x2="286.0" y2="260.4" stroke="#d00000" stroke-width="8" stroke-linecap="round"/>
<text x="294.0" y="271.3" font-size="33">400 °C</text>
<defs><clipPath id="bc"><rect x="161.6" y="789.0" width="822.6" height="714.7"/></clipPath></defs><g clip-path="url(#bc)">
<path d="M495.0 1015.0 L419.1 1075.3 L359.4 1136.4 L313.9 1190.5 L281.0 1236.0 L258.0 1276.0 L240.0 1312.0 L226.0 1344.0 L213.0 1376.0 L201.0 1405.0 L193.0 1426.0 L186.0 1446.0 L181.0 1464.0 L177.0 1482.0 L174.0 1503.0" fill="none" stroke="#d00000" stroke-width="8.0" stroke-linejoin="round" stroke-linecap="round"/>
<rect x="487.2" y="1007.2" width="15.5" height="15.5" fill="#d00000"/>
<rect x="411.4" y="1067.5" width="15.5" height="15.5" fill="#d00000"/>
<rect x="351.6" y="1128.7" width="15.5" height="15.5" fill="#d00000"/>
<rect x="306.1" y="1182.8" width="15.5" height="15.5" fill="#d00000"/>
<path d="M281.2 1222.0 L258.3 1269.0 L240.0 1310.0 L226.3 1342.0 L212.7 1375.4 L203.0 1404.0 L197.0 1425.0 L194.5 1442.0 L194.2 1459.6 L190.8 1470.6 L185.3 1486.3 L180.0 1498.0 L175.8 1504.0" fill="none" stroke="#ff4040" stroke-width="5.5" stroke-linejoin="round" stroke-linecap="round"/>
<circle cx="281.2" cy="1222.0" r="8.0" fill="#ff4040"/>
<circle cx="258.3" cy="1269.0" r="8.0" fill="#ff4040"/>
<path d="M394.0 1161.0 L322.4 1201.8 L275.5 1257.3 L252.1 1307.0 L227.9 1361.7 L215.7 1399.6 L206.6 1420.9 L199.0 1437.6 L196.7 1451.3 L190.0 1468.0 L184.0 1482.0" fill="none" stroke="#66b2ff" stroke-width="6.5" stroke-linejoin="round" stroke-linecap="round"/>
<path d="M394.0 1171.4L404.0 1154.0L384.0 1154.0Z" fill="#66b2ff"/>
<path d="M322.4 1212.2L332.4 1194.8L312.4 1194.8Z" fill="#66b2ff"/>
<path d="M275.5 1267.7L285.5 1250.3L265.5 1250.3Z" fill="#66b2ff"/>
<path d="M252.1 1317.4L262.1 1300.0L242.1 1300.0Z" fill="#66b2ff"/>
<path d="M227.9 1372.1L237.9 1354.7L217.9 1354.7Z" fill="#66b2ff"/>
<path d="M215.7 1410.0L225.7 1392.6L205.7 1392.6Z" fill="#66b2ff"/>
<path d="M206.6 1431.3L216.6 1413.9L196.6 1413.9Z" fill="#66b2ff"/>
<path d="M199.0 1448.0L209.0 1430.6L189.0 1430.6Z" fill="#66b2ff"/>
<path d="M196.7 1461.7L206.7 1444.3L186.7 1444.3Z" fill="#66b2ff"/>
<path d="M240.8 1284.3 L221.0 1325.3 L210.4 1358.7 L200.5 1386.0 L193.0 1410.3 L189.9 1424.0 L184.0 1445.0 L178.0 1470.0" fill="none" stroke="#808080" stroke-width="4.8" stroke-linejoin="round" stroke-linecap="round"/>
<path d="M240.8 1273.9L250.8 1291.3L230.8 1291.3Z" fill="#808080"/>
<path d="M221.0 1314.9L231.0 1332.3L211.0 1332.3Z" fill="#808080"/>
<path d="M210.4 1348.3L220.4 1365.7L200.4 1365.7Z" fill="#808080"/>
<path d="M200.5 1375.6L210.5 1393.0L190.5 1393.0Z" fill="#808080"/>
<path d="M193.0 1399.9L203.0 1417.3L183.0 1417.3Z" fill="#808080"/>
<path d="M189.9 1413.6L199.9 1431.0L179.9 1431.0Z" fill="#808080"/>
<path d="M295.8 820.8 L257.5 946.3 L236.7 1058.5 L220.7 1147.0 L210.1 1217.6 L201.3 1274.4 L195.7 1319.2 L191.1 1355.6 L186.9 1384.5 L184.6 1407.2 L182.0 1425.5 L180.0 1440.6 L177.8 1452.8 L175.5 1464.0 L173.0 1474.0 L171.0 1482.0 L169.0 1489.0 L167.0 1495.0 L165.0 1500.0 L163.0 1503.0" fill="none" stroke="#0066cc" stroke-width="6.5" stroke-linejoin="round" stroke-linecap="round"/>
<path d="M295.8 810.3L306.3 820.8L295.8 831.3L285.3 820.8Z" fill="#0066cc"/>
<path d="M257.5 935.8L268.0 946.3L257.5 956.8L247.0 946.3Z" fill="#0066cc"/>
<path d="M236.7 1048.0L247.2 1058.5L236.7 1069.0L226.2 1058.5Z" fill="#0066cc"/>
<path d="M220.7 1136.5L231.2 1147.0L220.7 1157.5L210.2 1147.0Z" fill="#0066cc"/>
<path d="M210.1 1207.1L220.6 1217.6L210.1 1228.1L199.6 1217.6Z" fill="#0066cc"/>
<path d="M201.3 1263.9L211.8 1274.4L201.3 1284.9L190.8 1274.4Z" fill="#0066cc"/>
<path d="M195.7 1308.7L206.2 1319.2L195.7 1329.7L185.2 1319.2Z" fill="#0066cc"/>
<path d="M191.1 1345.1L201.6 1355.6L191.1 1366.1L180.6 1355.6Z" fill="#0066cc"/>
<path d="M186.9 1374.0L197.4 1384.5L186.9 1395.0L176.4 1384.5Z" fill="#0066cc"/>
<path d="M184.6 1396.7L195.1 1407.2L184.6 1417.7L174.1 1407.2Z" fill="#0066cc"/>
<path d="M182.0 1415.0L192.5 1425.5L182.0 1436.0L171.5 1425.5Z" fill="#0066cc"/>
<path d="M180.0 1430.1L190.5 1440.6L180.0 1451.1L169.5 1440.6Z" fill="#0066cc"/>
<path d="M177.8 1442.3L188.3 1452.8L177.8 1463.3L167.3 1452.8Z" fill="#0066cc"/>
<path d="M175.5 1453.5L186.0 1464.0L175.5 1474.5L165.0 1464.0Z" fill="#0066cc"/>
<path d="M173.0 1463.5L183.5 1474.0L173.0 1484.5L162.5 1474.0Z" fill="#0066cc"/>
<path d="M171.0 1471.5L181.5 1482.0L171.0 1492.5L160.5 1482.0Z" fill="#0066cc"/>
<path d="M169.0 1478.5L179.5 1489.0L169.0 1499.5L158.5 1489.0Z" fill="#0066cc"/>
<path d="M167.0 1484.5L177.5 1495.0L167.0 1505.5L156.5 1495.0Z" fill="#0066cc"/>
<path d="M165.0 1489.5L175.5 1500.0L165.0 1510.5L154.5 1500.0Z" fill="#0066cc"/>
<path d="M161.8 1474.5 L173.5 1470.0 L186.9 1466.7 L182.9 1483.1 L175.9 1503.6 L161.8 1503.6 Z" fill="#0066cc"/>
</g>
<rect x="161.6" y="789.0" width="822.6" height="714.7" fill="none" stroke="#000" stroke-width="2.6"/>
<path d="M161.6 1503.7h14.0M984.2 1503.7h-14.0M161.6 1393.7h14.0M984.2 1393.7h-14.0M161.6 1283.7h14.0M984.2 1283.7h-14.0M161.6 1173.7h14.0M984.2 1173.7h-14.0M161.6 1063.7h14.0M984.2 1063.7h-14.0M161.6 953.7h14.0M984.2 953.7h-14.0M161.6 843.7h14.0M984.2 843.7h-14.0M161.4 1503.7v-14.0M279.0 1503.7v-14.0M396.6 1503.7v-14.0M514.2 1503.7v-14.0M631.8 1503.7v-14.0M749.4 1503.7v-14.0M867.0 1503.7v-14.0M984.6 1503.7v-14.0" stroke="#000" stroke-width="2.4" fill="none"/>
<text x="145.8" y="1515.5" font-size="43" text-anchor="end">0</text>
<text x="145.8" y="1405.5" font-size="43" text-anchor="end">100</text>
<text x="145.8" y="1295.5" font-size="43" text-anchor="end">200</text>
<text x="145.8" y="1185.5" font-size="43" text-anchor="end">300</text>
<text x="145.8" y="1075.5" font-size="43" text-anchor="end">400</text>
<text x="145.8" y="965.5" font-size="43" text-anchor="end">500</text>
<text x="145.8" y="855.5" font-size="43" text-anchor="end">600</text>
<text x="161.4" y="1553.5" font-size="43" text-anchor="middle">0</text>
<text x="279.0" y="1553.5" font-size="43" text-anchor="middle">100</text>
<text x="396.6" y="1553.5" font-size="43" text-anchor="middle">200</text>
<text x="514.2" y="1553.5" font-size="43" text-anchor="middle">300</text>
<text x="631.8" y="1553.5" font-size="43" text-anchor="middle">400</text>
<text x="749.4" y="1553.5" font-size="43" text-anchor="middle">500</text>
<text x="867.0" y="1553.5" font-size="43" text-anchor="middle">600</text>
<text x="984.6" y="1553.5" font-size="43" text-anchor="middle">700</text>
<text x="488.0" y="1626.6" font-size="43">Z <tspan font-size="24.5" dy="15">REAL</tspan><tspan dy="-15" font-size="45" dx="2">(Ω)</tspan></text>
<text transform="translate(35.2 1250.5) rotate(-90)" font-size="43">-Z <tspan font-size="25.5" dy="14">IMAG</tspan><tspan dy="-14" font-size="45">(Ω)</tspan></text>
<text x="193.0" y="859.0" font-size="60" font-weight="bold">b</text>
<rect x="598.3" y="792.5" width="380.7" height="251.3" fill="#fff" stroke="#555" stroke-width="2"/>
<line x1="618.0" y1="821.4" x2="709.0" y2="821.4" stroke="#d00000" stroke-width="8.5" stroke-linecap="round"/>
<rect x="655.8" y="813.9" width="15.0" height="15.0" fill="#d00000"/>
<text x="718.5" y="836.0" font-size="40">400 °C - 5 min.</text>
<line x1="618.0" y1="871.1" x2="709.0" y2="871.1" stroke="#ff4040" stroke-width="8.5" stroke-linecap="round"/>
<circle cx="663.3" cy="871.1" r="8.2" fill="#ff4040"/>
<text x="718.5" y="885.7" font-size="40">375 °C - 5 min.</text>
<line x1="618.0" y1="920.8" x2="709.0" y2="920.8" stroke="#808080" stroke-width="8.5" stroke-linecap="round"/>
<path d="M663.3 909.3L674.3 928.5L652.3 928.5Z" fill="#808080"/>
<text x="718.5" y="935.4" font-size="40">300 °C - 5 min.</text>
<line x1="618.0" y1="970.5" x2="709.0" y2="970.5" stroke="#66b2ff" stroke-width="8.5" stroke-linecap="round"/>
<path d="M663.3 982.0L674.3 962.8L652.3 962.8Z" fill="#66b2ff"/>
<text x="718.5" y="985.1" font-size="40">250 °C - 5 min.</text>
<line x1="618.0" y1="1020.2" x2="709.0" y2="1020.2" stroke="#0066cc" stroke-width="8.5" stroke-linecap="round"/>
<path d="M663.3 1009.2L674.3 1020.2L663.3 1031.2L652.3 1020.2Z" fill="#0066cc"/>
<text x="718.5" y="1034.8" font-size="40">200 °C - 5 min.</text>
<g fill="none" stroke="#5a5a5a" stroke-width="1.4">
<path d="M604.6 1127.2H627.5M674.5 1127.2H697.5M697.5 1079V1173.1M697.5 1079H767.1M814.9 1079H882.6V1173.1M697.5 1173.1H720.4M767.8 1173.1H813.6M860.2 1173.1H882.6M882.6 1127.2H924.6M933.4 1127.2H975.5M924.6 1118.4V1135.8M933.4 1118.4V1135.8"/>
<rect x="627.5" y="1116.5" width="47" height="21"/>
<rect x="767.1" y="1069.8" width="47.8" height="19.9"/>
<rect x="720.4" y="1163.1" width="47.4" height="20.3"/>
<circle cx="836.9" cy="1173.1" r="23.3"/>
</g>
<g fill="#5a5a5a" font-family="Liberation Serif, serif">
<text x="771" y="1063.7" font-size="20.5">CPE</text>
<text x="640.5" y="1106.9" font-size="20.5">R<tspan font-size="14" dy="4">S</tspan></text>
<text x="729" y="1154.7" font-size="20.5">R<tspan font-size="14" dy="4">CT</tspan></text>
<text x="823" y="1143.2" font-size="20.5">Z<tspan font-size="14" dy="4">W</tspan></text>
<text x="917.5" y="1112.7" font-size="20.5">C<tspan font-size="14" dy="4">L</tspan></text>
</g>
<text x="836.9" y="1181.5" font-size="22" text-anchor="middle" fill="#222" style="font-family:'Liberation Sans',sans-serif">W</text>

<rect x="628.3" y="1206.4" width="311.9" height="252.6" fill="#fff"/>
<defs><clipPath id="ic"><rect x="628.3" y="1206.4" width="311.9" height="252.6"/></clipPath></defs>
<g clip-path="url(#ic)">
<path d="M662.0 1279.7 L692.6 1304.6 L703.9 1314.3 L710.3 1344.8 L715.1 1369.0 L716.7 1388.3 L718.3 1422.1 L721.6 1451.0 L737.6 1428.5 L753.7 1414.0 L766.6 1397.9 L777.9 1378.6 L787.3 1363.4 L796.2 1348.1 L805.9 1329.4 L815.6 1309.2 L826.9 1282.5 L841.5 1246.1 L856.0 1206.5 L860.0 1195.0" fill="none" stroke="#d00000" stroke-width="2.8" stroke-linejoin="round"/>
<rect x="658.8" y="1276.5" width="6.5" height="6.5" fill="#d00000"/>
<rect x="669.0" y="1284.8" width="6.5" height="6.5" fill="#d00000"/>
<rect x="679.1" y="1293.0" width="6.5" height="6.5" fill="#d00000"/>
<rect x="689.4" y="1301.3" width="6.5" height="6.5" fill="#d00000"/>
<rect x="700.6" y="1311.0" width="6.5" height="6.5" fill="#d00000"/>
<rect x="703.8" y="1326.3" width="6.5" height="6.5" fill="#d00000"/>
<rect x="707.0" y="1341.5" width="6.5" height="6.5" fill="#d00000"/>
<rect x="711.9" y="1365.8" width="6.5" height="6.5" fill="#d00000"/>
<rect x="713.5" y="1385.0" width="6.5" height="6.5" fill="#d00000"/>
<rect x="713.8" y="1391.8" width="6.5" height="6.5" fill="#d00000"/>
<rect x="714.1" y="1398.6" width="6.5" height="6.5" fill="#d00000"/>
<rect x="714.4" y="1405.3" width="6.5" height="6.5" fill="#d00000"/>
<rect x="714.7" y="1412.1" width="6.5" height="6.5" fill="#d00000"/>
<rect x="715.0" y="1418.8" width="6.5" height="6.5" fill="#d00000"/>
<rect x="715.9" y="1426.1" width="6.5" height="6.5" fill="#d00000"/>
<rect x="716.7" y="1433.3" width="6.5" height="6.5" fill="#d00000"/>
<rect x="717.5" y="1440.5" width="6.5" height="6.5" fill="#d00000"/>
<rect x="718.4" y="1447.8" width="6.5" height="6.5" fill="#d00000"/>
<rect x="722.4" y="1442.1" width="6.5" height="6.5" fill="#d00000"/>
<rect x="726.4" y="1436.5" width="6.5" height="6.5" fill="#d00000"/>
<rect x="730.4" y="1430.9" width="6.5" height="6.5" fill="#d00000"/>
<rect x="734.4" y="1425.2" width="6.5" height="6.5" fill="#d00000"/>
<rect x="739.7" y="1420.4" width="6.5" height="6.5" fill="#d00000"/>
<rect x="745.1" y="1415.6" width="6.5" height="6.5" fill="#d00000"/>
<rect x="750.5" y="1410.8" width="6.5" height="6.5" fill="#d00000"/>
<rect x="754.8" y="1405.4" width="6.5" height="6.5" fill="#d00000"/>
<rect x="759.1" y="1400.0" width="6.5" height="6.5" fill="#d00000"/>
<rect x="763.4" y="1394.7" width="6.5" height="6.5" fill="#d00000"/>
<rect x="767.1" y="1388.2" width="6.5" height="6.5" fill="#d00000"/>
<rect x="770.9" y="1381.8" width="6.5" height="6.5" fill="#d00000"/>
<rect x="774.6" y="1375.3" width="6.5" height="6.5" fill="#d00000"/>
<rect x="784.0" y="1360.2" width="6.5" height="6.5" fill="#d00000"/>
<rect x="793.0" y="1344.8" width="6.5" height="6.5" fill="#d00000"/>
<rect x="802.6" y="1326.2" width="6.5" height="6.5" fill="#d00000"/>
<rect x="812.4" y="1306.0" width="6.5" height="6.5" fill="#d00000"/>
<rect x="823.6" y="1279.2" width="6.5" height="6.5" fill="#d00000"/>
<rect x="828.5" y="1267.1" width="6.5" height="6.5" fill="#d00000"/>
<rect x="833.4" y="1255.0" width="6.5" height="6.5" fill="#d00000"/>
<rect x="838.2" y="1242.8" width="6.5" height="6.5" fill="#d00000"/>
<rect x="843.1" y="1229.6" width="6.5" height="6.5" fill="#d00000"/>
<rect x="847.9" y="1216.5" width="6.5" height="6.5" fill="#d00000"/>
<rect x="852.8" y="1203.2" width="6.5" height="6.5" fill="#d00000"/>
<path d="M680.5 1257.1 L707.1 1301.4 L715.9 1333.6 L721.6 1364.1 L728.0 1393.1 L729.6 1425.3 L737.6 1451.0 L753.7 1433.3 L769.8 1417.2 L783.2 1409.6 L790.5 1404.7 L797.8 1398.2 L806.7 1390.9 L814.8 1383.7 L823.7 1374.8 L831.8 1365.0 L840.7 1352.9 L850.4 1335.9 L861.7 1315.7 L871.4 1293.0 L883.6 1262.3 L897.3 1223.5 L903.8 1206.5 L908.0 1195.0" fill="none" stroke="#ff4040" stroke-width="2.8" stroke-linejoin="round"/>
<circle cx="680.5" cy="1257.1" r="3.2" fill="#ff4040"/>
<circle cx="689.4" cy="1271.9" r="3.2" fill="#ff4040"/>
<circle cx="698.2" cy="1286.6" r="3.2" fill="#ff4040"/>
<circle cx="707.1" cy="1301.4" r="3.2" fill="#ff4040"/>
<circle cx="711.5" cy="1317.5" r="3.2" fill="#ff4040"/>
<circle cx="715.9" cy="1333.6" r="3.2" fill="#ff4040"/>
<circle cx="718.8" cy="1348.8" r="3.2" fill="#ff4040"/>
<circle cx="721.6" cy="1364.1" r="3.2" fill="#ff4040"/>
<circle cx="728.0" cy="1393.1" r="3.2" fill="#ff4040"/>
<circle cx="728.3" cy="1399.5" r="3.2" fill="#ff4040"/>
<circle cx="728.6" cy="1406.0" r="3.2" fill="#ff4040"/>
<circle cx="729.0" cy="1412.4" r="3.2" fill="#ff4040"/>
<circle cx="729.3" cy="1418.9" r="3.2" fill="#ff4040"/>
<circle cx="729.6" cy="1425.3" r="3.2" fill="#ff4040"/>
<circle cx="731.6" cy="1431.7" r="3.2" fill="#ff4040"/>
<circle cx="733.6" cy="1438.2" r="3.2" fill="#ff4040"/>
<circle cx="735.6" cy="1444.6" r="3.2" fill="#ff4040"/>
<circle cx="737.6" cy="1451.0" r="3.2" fill="#ff4040"/>
<circle cx="743.0" cy="1445.1" r="3.2" fill="#ff4040"/>
<circle cx="748.3" cy="1439.2" r="3.2" fill="#ff4040"/>
<circle cx="753.7" cy="1433.3" r="3.2" fill="#ff4040"/>
<circle cx="759.1" cy="1427.9" r="3.2" fill="#ff4040"/>
<circle cx="764.4" cy="1422.6" r="3.2" fill="#ff4040"/>
<circle cx="769.8" cy="1417.2" r="3.2" fill="#ff4040"/>
<circle cx="776.5" cy="1413.4" r="3.2" fill="#ff4040"/>
<circle cx="783.2" cy="1409.6" r="3.2" fill="#ff4040"/>
<circle cx="790.5" cy="1404.7" r="3.2" fill="#ff4040"/>
<circle cx="797.8" cy="1398.2" r="3.2" fill="#ff4040"/>
<circle cx="802.2" cy="1394.6" r="3.2" fill="#ff4040"/>
<circle cx="806.7" cy="1390.9" r="3.2" fill="#ff4040"/>
<circle cx="814.8" cy="1383.7" r="3.2" fill="#ff4040"/>
<circle cx="823.7" cy="1374.8" r="3.2" fill="#ff4040"/>
<circle cx="831.8" cy="1365.0" r="3.2" fill="#ff4040"/>
<circle cx="840.7" cy="1352.9" r="3.2" fill="#ff4040"/>
<circle cx="850.4" cy="1335.9" r="3.2" fill="#ff4040"/>
<circle cx="861.7" cy="1315.7" r="3.2" fill="#ff4040"/>
<circle cx="871.4" cy="1293.0" r="3.2" fill="#ff4040"/>
<circle cx="877.5" cy="1277.7" r="3.2" fill="#ff4040"/>
<circle cx="883.6" cy="1262.3" r="3.2" fill="#ff4040"/>
<circle cx="888.2" cy="1249.4" r="3.2" fill="#ff4040"/>
<circle cx="892.7" cy="1236.4" r="3.2" fill="#ff4040"/>
<circle cx="897.3" cy="1223.5" r="3.2" fill="#ff4040"/>
<circle cx="903.8" cy="1206.5" r="3.2" fill="#ff4040"/>
<path d="M659.6 1247.5 L716.7 1293.3 L721.6 1332.0 L724.8 1357.7 L726.4 1377.0 L728.0 1409.2 L729.6 1455.0 L745.7 1438.2 L761.8 1418.9 L780.0 1382.8 L788.1 1368.3 L802.7 1350.5 L813.2 1329.4 L818.0 1314.9 L831.8 1279.3 L855.2 1243.7 L869.8 1206.5 L874.0 1195.0" fill="none" stroke="#66b2ff" stroke-width="2.8" stroke-linejoin="round"/>
<path d="M659.6 1250.9L662.9 1245.2L656.4 1245.2Z" fill="#66b2ff"/>
<path d="M671.0 1260.1L674.3 1254.4L667.8 1254.4Z" fill="#66b2ff"/>
<path d="M682.4 1269.2L685.7 1263.6L679.2 1263.6Z" fill="#66b2ff"/>
<path d="M693.9 1278.4L697.1 1272.7L690.6 1272.7Z" fill="#66b2ff"/>
<path d="M705.3 1287.5L708.5 1281.9L702.0 1281.9Z" fill="#66b2ff"/>
<path d="M716.7 1296.7L720.0 1291.0L713.5 1291.0Z" fill="#66b2ff"/>
<path d="M718.3 1309.6L721.6 1303.9L715.1 1303.9Z" fill="#66b2ff"/>
<path d="M720.0 1322.5L723.2 1316.8L716.7 1316.8Z" fill="#66b2ff"/>
<path d="M721.6 1335.4L724.9 1329.7L718.4 1329.7Z" fill="#66b2ff"/>
<path d="M724.8 1361.1L728.0 1355.4L721.5 1355.4Z" fill="#66b2ff"/>
<path d="M726.4 1380.4L729.6 1374.7L723.1 1374.7Z" fill="#66b2ff"/>
<path d="M726.7 1386.8L730.0 1381.2L723.5 1381.2Z" fill="#66b2ff"/>
<path d="M727.0 1393.3L730.3 1387.6L723.8 1387.6Z" fill="#66b2ff"/>
<path d="M727.4 1399.7L730.6 1394.1L724.1 1394.1Z" fill="#66b2ff"/>
<path d="M727.7 1406.2L730.9 1400.5L724.4 1400.5Z" fill="#66b2ff"/>
<path d="M728.0 1412.6L731.2 1406.9L724.8 1406.9Z" fill="#66b2ff"/>
<path d="M728.2 1419.1L731.5 1413.5L725.0 1413.5Z" fill="#66b2ff"/>
<path d="M728.5 1425.7L731.7 1420.0L725.2 1420.0Z" fill="#66b2ff"/>
<path d="M728.7 1432.2L731.9 1426.6L725.4 1426.6Z" fill="#66b2ff"/>
<path d="M728.9 1438.8L732.2 1433.1L725.7 1433.1Z" fill="#66b2ff"/>
<path d="M729.1 1445.3L732.4 1439.7L725.9 1439.7Z" fill="#66b2ff"/>
<path d="M729.4 1451.9L732.6 1446.2L726.1 1446.2Z" fill="#66b2ff"/>
<path d="M729.6 1458.4L732.9 1452.7L726.4 1452.7Z" fill="#66b2ff"/>
<path d="M735.0 1452.8L738.2 1447.1L731.7 1447.1Z" fill="#66b2ff"/>
<path d="M740.3 1447.2L743.6 1441.5L737.1 1441.5Z" fill="#66b2ff"/>
<path d="M745.7 1441.6L749.0 1435.9L742.5 1435.9Z" fill="#66b2ff"/>
<path d="M749.7 1436.8L753.0 1431.1L746.5 1431.1Z" fill="#66b2ff"/>
<path d="M753.8 1431.9L757.0 1426.3L750.5 1426.3Z" fill="#66b2ff"/>
<path d="M757.8 1427.1L761.0 1421.5L754.5 1421.5Z" fill="#66b2ff"/>
<path d="M761.8 1422.3L765.0 1416.6L758.5 1416.6Z" fill="#66b2ff"/>
<path d="M764.8 1416.3L768.1 1410.6L761.6 1410.6Z" fill="#66b2ff"/>
<path d="M767.9 1410.3L771.1 1404.6L764.6 1404.6Z" fill="#66b2ff"/>
<path d="M770.9 1404.2L774.1 1398.6L767.6 1398.6Z" fill="#66b2ff"/>
<path d="M773.9 1398.2L777.2 1392.6L770.7 1392.6Z" fill="#66b2ff"/>
<path d="M777.0 1392.2L780.2 1386.6L773.7 1386.6Z" fill="#66b2ff"/>
<path d="M780.0 1386.2L783.2 1380.5L776.8 1380.5Z" fill="#66b2ff"/>
<path d="M788.1 1371.7L791.4 1366.0L784.9 1366.0Z" fill="#66b2ff"/>
<path d="M802.7 1353.9L806.0 1348.2L799.5 1348.2Z" fill="#66b2ff"/>
<path d="M813.2 1332.8L816.5 1327.1L810.0 1327.1Z" fill="#66b2ff"/>
<path d="M818.0 1318.3L821.2 1312.6L814.8 1312.6Z" fill="#66b2ff"/>
<path d="M822.6 1306.4L825.9 1300.8L819.4 1300.8Z" fill="#66b2ff"/>
<path d="M827.2 1294.6L830.4 1288.9L823.9 1288.9Z" fill="#66b2ff"/>
<path d="M831.8 1282.7L835.0 1277.0L828.5 1277.0Z" fill="#66b2ff"/>
<path d="M839.6 1270.8L842.9 1265.2L836.4 1265.2Z" fill="#66b2ff"/>
<path d="M847.4 1259.0L850.6 1253.3L844.1 1253.3Z" fill="#66b2ff"/>
<path d="M855.2 1247.1L858.5 1241.4L852.0 1241.4Z" fill="#66b2ff"/>
<path d="M860.1 1234.7L863.3 1229.0L856.8 1229.0Z" fill="#66b2ff"/>
<path d="M864.9 1222.3L868.2 1216.6L861.7 1216.6Z" fill="#66b2ff"/>
<path d="M869.8 1209.9L873.0 1204.2L866.5 1204.2Z" fill="#66b2ff"/>
<path d="M600.0 1255.0 L628.2 1267.6 L692.6 1299.8 L694.2 1306.2 L700.0 1360.0 L705.5 1451.0 L724.8 1422.1 L745.7 1373.8 L761.8 1338.4 L773.0 1312.6 L783.2 1285.8 L795.4 1245.3 L808.3 1206.5 L812.0 1195.0" fill="none" stroke="#808080" stroke-width="2.8" stroke-linejoin="round"/>
<path d="M600.0 1251.6L603.2 1257.3L596.8 1257.3Z" fill="#808080"/>
<path d="M614.1 1257.9L617.4 1263.6L610.9 1263.6Z" fill="#808080"/>
<path d="M628.2 1264.2L631.5 1269.9L625.0 1269.9Z" fill="#808080"/>
<path d="M641.1 1270.6L644.3 1276.3L637.8 1276.3Z" fill="#808080"/>
<path d="M654.0 1277.1L657.2 1282.7L650.7 1282.7Z" fill="#808080"/>
<path d="M666.8 1283.5L670.1 1289.2L663.6 1289.2Z" fill="#808080"/>
<path d="M679.7 1290.0L683.0 1295.6L676.5 1295.6Z" fill="#808080"/>
<path d="M692.6 1296.4L695.9 1302.1L689.4 1302.1Z" fill="#808080"/>
<path d="M694.2 1302.8L697.5 1308.5L691.0 1308.5Z" fill="#808080"/>
<path d="M695.7 1316.3L698.9 1321.9L692.4 1321.9Z" fill="#808080"/>
<path d="M697.1 1329.7L700.4 1335.4L693.9 1335.4Z" fill="#808080"/>
<path d="M698.5 1343.2L701.8 1348.8L695.3 1348.8Z" fill="#808080"/>
<path d="M700.0 1356.6L703.2 1362.3L696.8 1362.3Z" fill="#808080"/>
<path d="M700.4 1363.6L703.7 1369.3L697.2 1369.3Z" fill="#808080"/>
<path d="M700.8 1370.6L704.1 1376.3L697.6 1376.3Z" fill="#808080"/>
<path d="M701.3 1377.6L704.5 1383.3L698.0 1383.3Z" fill="#808080"/>
<path d="M701.7 1384.6L704.9 1390.3L698.4 1390.3Z" fill="#808080"/>
<path d="M702.1 1391.6L705.4 1397.3L698.9 1397.3Z" fill="#808080"/>
<path d="M702.5 1398.6L705.8 1404.3L699.3 1404.3Z" fill="#808080"/>
<path d="M703.0 1405.6L706.2 1411.3L699.7 1411.3Z" fill="#808080"/>
<path d="M703.4 1412.6L706.6 1418.3L700.1 1418.3Z" fill="#808080"/>
<path d="M703.8 1419.6L707.1 1425.3L700.6 1425.3Z" fill="#808080"/>
<path d="M704.2 1426.6L707.5 1432.3L701.0 1432.3Z" fill="#808080"/>
<path d="M704.7 1433.6L707.9 1439.3L701.4 1439.3Z" fill="#808080"/>
<path d="M705.1 1440.6L708.3 1446.3L701.8 1446.3Z" fill="#808080"/>
<path d="M705.5 1447.6L708.8 1453.3L702.2 1453.3Z" fill="#808080"/>
<path d="M709.4 1441.8L712.6 1447.5L706.1 1447.5Z" fill="#808080"/>
<path d="M713.2 1436.0L716.5 1441.7L710.0 1441.7Z" fill="#808080"/>
<path d="M717.1 1430.3L720.3 1435.9L713.8 1435.9Z" fill="#808080"/>
<path d="M720.9 1424.5L724.2 1430.1L717.7 1430.1Z" fill="#808080"/>
<path d="M724.8 1418.7L728.0 1424.4L721.5 1424.4Z" fill="#808080"/>
<path d="M727.4 1412.7L730.7 1418.3L724.2 1418.3Z" fill="#808080"/>
<path d="M730.0 1406.6L733.3 1412.3L726.8 1412.3Z" fill="#808080"/>
<path d="M732.6 1400.6L735.9 1406.2L729.4 1406.2Z" fill="#808080"/>
<path d="M735.2 1394.6L738.5 1400.2L732.0 1400.2Z" fill="#808080"/>
<path d="M737.9 1388.5L741.1 1394.2L734.6 1394.2Z" fill="#808080"/>
<path d="M740.5 1382.5L743.7 1388.1L737.2 1388.1Z" fill="#808080"/>
<path d="M743.1 1376.4L746.3 1382.1L739.8 1382.1Z" fill="#808080"/>
<path d="M745.7 1370.4L749.0 1376.1L742.5 1376.1Z" fill="#808080"/>
<path d="M751.1 1358.6L754.3 1364.3L747.8 1364.3Z" fill="#808080"/>
<path d="M756.4 1346.8L759.7 1352.5L753.2 1352.5Z" fill="#808080"/>
<path d="M761.8 1335.0L765.0 1340.7L758.5 1340.7Z" fill="#808080"/>
<path d="M773.0 1309.2L776.2 1314.9L769.8 1314.9Z" fill="#808080"/>
<path d="M783.2 1282.4L786.5 1288.1L780.0 1288.1Z" fill="#808080"/>
<path d="M787.3 1268.9L790.5 1274.6L784.0 1274.6Z" fill="#808080"/>
<path d="M791.3 1255.4L794.6 1261.1L788.1 1261.1Z" fill="#808080"/>
<path d="M795.4 1241.9L798.6 1247.6L792.1 1247.6Z" fill="#808080"/>
<path d="M799.7 1229.0L802.9 1234.6L796.4 1234.6Z" fill="#808080"/>
<path d="M804.0 1216.0L807.2 1221.7L800.8 1221.7Z" fill="#808080"/>
<path d="M808.3 1203.1L811.5 1208.8L805.0 1208.8Z" fill="#808080"/>
<path d="M631.4 1249.1 L695.8 1296.6 L699.0 1332.0 L703.9 1359.3 L705.5 1380.2 L710.3 1398.0 L708.7 1420.5 L711.9 1451.0 L724.8 1428.5 L731.2 1415.6 L744.1 1388.3 L752.1 1373.8 L761.8 1357.7 L769.8 1340.0 L779.5 1320.7 L789.7 1295.5 L801.8 1263.9 L813.2 1226.7 L818.8 1206.5 L822.0 1195.0" fill="none" stroke="#0066cc" stroke-width="2.8" stroke-linejoin="round"/>
<path d="M631.4 1245.8L634.6 1249.1L631.4 1252.3L628.1 1249.1Z" fill="#0066cc"/>
<path d="M644.3 1255.3L647.5 1258.6L644.3 1261.8L641.0 1258.6Z" fill="#0066cc"/>
<path d="M657.2 1264.8L660.4 1268.1L657.2 1271.3L653.9 1268.1Z" fill="#0066cc"/>
<path d="M670.0 1274.3L673.3 1277.6L670.0 1280.8L666.8 1277.6Z" fill="#0066cc"/>
<path d="M682.9 1283.8L686.2 1287.1L682.9 1290.3L679.7 1287.1Z" fill="#0066cc"/>
<path d="M695.8 1293.3L699.0 1296.6L695.8 1299.8L692.5 1296.6Z" fill="#0066cc"/>
<path d="M697.4 1311.0L700.6 1314.3L697.4 1317.5L694.1 1314.3Z" fill="#0066cc"/>
<path d="M699.0 1328.8L702.2 1332.0L699.0 1335.2L695.8 1332.0Z" fill="#0066cc"/>
<path d="M703.9 1356.0L707.1 1359.3L703.9 1362.5L700.6 1359.3Z" fill="#0066cc"/>
<path d="M705.5 1377.0L708.8 1380.2L705.5 1383.5L702.2 1380.2Z" fill="#0066cc"/>
<path d="M707.1 1382.9L710.4 1386.1L707.1 1389.4L703.9 1386.1Z" fill="#0066cc"/>
<path d="M708.7 1388.8L711.9 1392.1L708.7 1395.3L705.4 1392.1Z" fill="#0066cc"/>
<path d="M710.3 1394.8L713.5 1398.0L710.3 1401.2L707.0 1398.0Z" fill="#0066cc"/>
<path d="M709.8 1402.2L713.0 1405.5L709.8 1408.8L706.5 1405.5Z" fill="#0066cc"/>
<path d="M709.2 1409.8L712.5 1413.0L709.2 1416.2L706.0 1413.0Z" fill="#0066cc"/>
<path d="M708.7 1417.2L712.0 1420.5L708.7 1423.8L705.5 1420.5Z" fill="#0066cc"/>
<path d="M709.5 1424.9L712.8 1428.1L709.5 1431.4L706.2 1428.1Z" fill="#0066cc"/>
<path d="M710.3 1432.5L713.5 1435.8L710.3 1439.0L707.0 1435.8Z" fill="#0066cc"/>
<path d="M711.1 1440.1L714.4 1443.4L711.1 1446.6L707.9 1443.4Z" fill="#0066cc"/>
<path d="M711.9 1447.8L715.1 1451.0L711.9 1454.2L708.6 1451.0Z" fill="#0066cc"/>
<path d="M715.1 1442.1L718.4 1445.4L715.1 1448.6L711.9 1445.4Z" fill="#0066cc"/>
<path d="M718.3 1436.5L721.6 1439.8L718.3 1443.0L715.1 1439.8Z" fill="#0066cc"/>
<path d="M721.6 1430.9L724.8 1434.1L721.6 1437.4L718.3 1434.1Z" fill="#0066cc"/>
<path d="M724.8 1425.2L728.0 1428.5L724.8 1431.8L721.5 1428.5Z" fill="#0066cc"/>
<path d="M728.0 1418.8L731.2 1422.0L728.0 1425.3L724.8 1422.0Z" fill="#0066cc"/>
<path d="M731.2 1412.3L734.5 1415.6L731.2 1418.8L728.0 1415.6Z" fill="#0066cc"/>
<path d="M734.4 1405.5L737.7 1408.8L734.4 1412.0L731.2 1408.8Z" fill="#0066cc"/>
<path d="M737.7 1398.7L740.9 1401.9L737.7 1405.2L734.4 1401.9Z" fill="#0066cc"/>
<path d="M740.9 1391.9L744.1 1395.1L740.9 1398.4L737.6 1395.1Z" fill="#0066cc"/>
<path d="M744.1 1385.0L747.4 1388.3L744.1 1391.5L740.9 1388.3Z" fill="#0066cc"/>
<path d="M752.1 1370.5L755.4 1373.8L752.1 1377.0L748.9 1373.8Z" fill="#0066cc"/>
<path d="M761.8 1354.5L765.0 1357.7L761.8 1361.0L758.5 1357.7Z" fill="#0066cc"/>
<path d="M769.8 1336.8L773.0 1340.0L769.8 1343.2L766.5 1340.0Z" fill="#0066cc"/>
<path d="M779.5 1317.5L782.8 1320.7L779.5 1324.0L776.2 1320.7Z" fill="#0066cc"/>
<path d="M789.7 1292.2L793.0 1295.5L789.7 1298.8L786.5 1295.5Z" fill="#0066cc"/>
<path d="M795.8 1276.5L799.0 1279.7L795.8 1283.0L792.5 1279.7Z" fill="#0066cc"/>
<path d="M801.8 1260.7L805.0 1263.9L801.8 1267.2L798.5 1263.9Z" fill="#0066cc"/>
<path d="M805.6 1248.2L808.9 1251.5L805.6 1254.8L802.4 1251.5Z" fill="#0066cc"/>
<path d="M809.4 1235.9L812.6 1239.1L809.4 1242.4L806.1 1239.1Z" fill="#0066cc"/>
<path d="M813.2 1223.5L816.5 1226.7L813.2 1230.0L810.0 1226.7Z" fill="#0066cc"/>
<path d="M818.8 1203.2L822.0 1206.5L818.8 1209.8L815.5 1206.5Z" fill="#0066cc"/>
</g>
<rect x="628.3" y="1206.4" width="311.9" height="252.6" fill="none" stroke="#666" stroke-width="2"/>
<path d="M628.3 1459.0h6.0M940.2 1459.0h-6.0M688.5 1459.0v-6.0M628.3 1353.3h6.0M940.2 1353.3h-6.0M808.1 1459.0v-6.0M628.3 1247.6h6.0M940.2 1247.6h-6.0M927.7 1459.0v-6.0" stroke="#666" stroke-width="1.6" fill="none"/>
<text x="622.5" y="1470.2" font-size="36" text-anchor="end" fill="#111">0</text>
<text x="689.5" y="1492.3" font-size="36" text-anchor="middle" fill="#111">0</text>
<text x="622.5" y="1364.5" font-size="36" text-anchor="end" fill="#111">10</text>
<text x="809.1" y="1492.3" font-size="36" text-anchor="middle" fill="#111">10</text>
<text x="622.5" y="1258.8" font-size="36" text-anchor="end" fill="#111">20</text>
<text x="928.7" y="1492.3" font-size="36" text-anchor="middle" fill="#111">20</text>
</svg></body></html>
